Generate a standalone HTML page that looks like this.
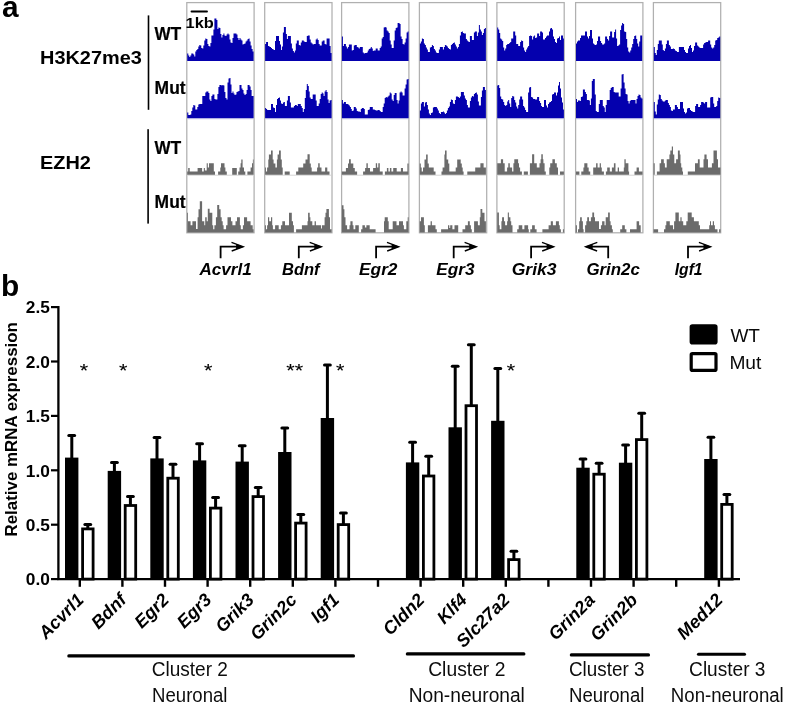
<!DOCTYPE html>
<html lang="en"><head><meta charset="utf-8"><title>Figure</title>
<style>html,body{margin:0;padding:0;background:#fff}svg{display:block}</style></head>
<body>
<svg width="785" height="705" viewBox="0 0 785 705" font-family='"Liberation Sans", Arial, Helvetica, sans-serif'>
<rect width="785" height="705" fill="#fff"/>
<g fill="#000" font-weight="bold">
<text x="1.9" y="17.0" font-size="29.8">a</text>
<text x="0.9" y="296.0" font-size="29.8">b</text>
<text x="40.0" y="64.4" font-size="18.6" textLength="101.9" lengthAdjust="spacingAndGlyphs">H3K27me3</text>
<text x="40.0" y="169.4" font-size="18.6" textLength="50.9" lengthAdjust="spacingAndGlyphs">EZH2</text>
<text x="154.6" y="39.6" font-size="18" stroke="#000" stroke-width="0.2" textLength="26.6" lengthAdjust="spacingAndGlyphs">WT</text>
<text x="154.6" y="93.7" font-size="18" stroke="#000" stroke-width="0.2" textLength="31.0" lengthAdjust="spacingAndGlyphs">Mut</text>
<text x="154.6" y="153.9" font-size="18" stroke="#000" stroke-width="0.2" textLength="26.6" lengthAdjust="spacingAndGlyphs">WT</text>
<text x="154.6" y="208.1" font-size="18" stroke="#000" stroke-width="0.2" textLength="31.0" lengthAdjust="spacingAndGlyphs">Mut</text>
</g>
<rect x="147.7" y="15.4" width="1.6" height="94.4" fill="#000"/>
<rect x="147.3" y="129.2" width="1.6" height="94.4" fill="#000"/>
<rect x="186.80" y="2.6" width="67.3" height="230.2" fill="none" stroke="#b0b0b0" stroke-width="1.25"/>
<line x1="187.40" y1="118.9" x2="253.50" y2="118.9" stroke="#d9d9f0" stroke-width="1"/>
<line x1="187.40" y1="175.2" x2="253.50" y2="175.2" stroke="#cfcfcf" stroke-width="0.9"/>
<path d="M187.2,60.9V53.5H188.3V55.5H189.3V57.0H190.3V55.5H191.3V53.5H192.3V53.5H193.3V54.5H194.3V56.5H195.3V51.5H196.3V50.0H197.3V49.0H198.3V46.5H199.3V45.0H200.3V45.5H201.3V48.0H202.3V48.5H203.3V45.5H204.3V40.5H205.3V38.5H206.3V39.0H207.4V44.0H208.4V46.0H209.4V46.5H210.4V43.0H211.4V35.5H212.4V35.5H213.4V29.5H214.4V18.5H215.4V18.5H216.4V20.0H217.4V29.0H218.4V27.5H219.4V28.0H220.4V34.0H221.4V37.5H222.4V35.0H223.4V33.5H224.4V35.5H225.4V36.0H226.5V34.5H227.5V33.5H228.5V34.5H229.5V39.5H230.5V42.5H231.5V43.0H232.5V38.0H233.5V33.5H234.5V33.5H235.5V33.5H236.5V34.5H237.5V38.0H238.5V40.0H239.5V38.0H240.5V39.5H241.5V40.5H242.5V44.5H243.5V44.0H244.5V43.5H245.6V41.5H246.6V40.5H247.6V39.0H248.6V38.5H249.6V41.5H250.6V45.5H251.6V49.0H252.6V51.5H253.6V60.9Z" fill="#0400ae"/>
<path d="M187.2,118.2V112.5H188.3V115.0H189.3V115.0H190.3V114.5H191.3V111.0H192.3V107.5H193.3V105.0H194.3V105.5H195.3V109.5H196.3V109.5H197.3V107.0H198.3V104.5H199.3V104.0H200.3V104.0H201.3V104.0H202.3V96.0H203.3V96.0H204.3V96.0H205.3V92.5H206.3V91.5H207.4V91.5H208.4V93.0H209.4V99.5H210.4V101.0H211.4V96.0H212.4V94.5H213.4V94.5H214.4V99.0H215.4V99.5H216.4V99.5H217.4V94.0H218.4V87.0H219.4V85.0H220.4V85.0H221.4V85.5H222.4V85.0H223.4V85.5H224.4V92.0H225.4V98.0H226.5V99.5H227.5V82.5H228.5V78.5H229.5V78.0H230.5V84.5H231.5V93.0H232.5V91.5H233.5V93.5H234.5V95.0H235.5V94.5H236.5V92.0H237.5V91.5H238.5V91.0H239.5V85.0H240.5V85.0H241.5V88.5H242.5V90.0H243.5V93.5H244.5V95.0H245.6V94.0H246.6V90.0H247.6V85.0H248.6V85.0H249.6V86.5H250.6V90.0H251.6V96.0H252.6V96.0H253.6V118.2Z" fill="#0400ae"/>
<path d="M187.2,174.8V171.5H188.2V174.8ZM188.2,174.8V167.9H189.7V174.8ZM189.7,174.8V171.5H197.6V174.8ZM197.6,174.8V167.9H202.1V174.8ZM202.1,174.8V171.5H203.8V174.8ZM203.8,174.8V167.9H204.9V174.8ZM204.9,174.8V170.6H206.7V174.8ZM206.7,174.8V163.2H207.8V174.8ZM207.8,174.8V167.5H209.0V174.8ZM209.0,174.8V163.2H213.8V174.8ZM213.8,174.8V171.5H215.0V174.8ZM218.1,174.8V171.5H220.3V174.8ZM220.3,174.8V167.5H221.0V174.8ZM221.0,174.8V163.2H224.5V174.8ZM224.5,174.8V167.5H225.4V174.8ZM225.4,174.8V171.5H226.8V174.8ZM232.2,174.8V167.9H236.8V174.8ZM238.2,174.8V171.5H239.5V174.8ZM239.5,174.8V167.5H240.6V174.8ZM240.6,174.8V163.2H241.3V174.8ZM241.3,174.8V159.5H242.6V174.8ZM242.6,174.8V167.5H244.0V174.8ZM244.0,174.8V171.5H245.3V174.8ZM247.4,174.8V171.5H250.6V174.8ZM250.6,174.8V167.5H252.0V174.8ZM252.0,174.8V163.2H252.9V174.8ZM252.9,174.8V159.5H253.6V174.8Z" fill="#6b6b6b"/>
<path d="M187.2,232.6V212.8H188.0V232.6ZM188.0,232.6V221.3H190.6V232.6ZM190.6,232.6V225.3H192.4V232.6ZM192.4,232.6V221.3H196.0V232.6ZM196.0,232.6V228.9H197.6V232.6ZM197.6,232.6V217.3H198.5V232.6ZM198.5,232.6V209.2H199.8V232.6ZM199.8,232.6V201.2H202.1V232.6ZM202.1,232.6V221.3H204.3V232.6ZM204.3,232.6V225.3H205.2V232.6ZM205.2,232.6V217.3H206.7V232.6ZM206.7,232.6V221.3H207.8V232.6ZM207.8,232.6V208.8H209.6V232.6ZM209.6,232.6V212.8H212.3V232.6ZM212.3,232.6V225.3H213.2V232.6ZM213.2,232.6V229.3H214.4V232.6ZM214.4,232.6V225.3H215.9V232.6ZM215.9,232.6V217.3H217.2V232.6ZM217.2,232.6V205.0H219.2V232.6ZM219.2,232.6V209.2H220.6V232.6ZM220.6,232.6V217.3H221.7V232.6ZM221.7,232.6V221.3H222.7V232.6ZM222.7,232.6V225.3H223.6V232.6ZM223.6,232.6V229.3H226.1V232.6ZM226.1,232.6V225.3H227.5V232.6ZM227.5,232.6V217.3H231.0V232.6ZM231.0,232.6V221.3H232.4V232.6ZM232.4,232.6V225.3H235.5V232.6ZM235.5,232.6V221.3H237.0V232.6ZM237.0,232.6V217.3H239.9V232.6ZM239.9,232.6V225.3H240.8V232.6ZM240.8,232.6V229.3H242.9V232.6ZM242.9,232.6V225.3H244.0V232.6ZM244.0,232.6V217.3H247.1V232.6ZM247.1,232.6V221.3H250.6V232.6ZM250.6,232.6V225.3H252.7V232.6ZM252.7,232.6V229.3H253.6V232.6Z" fill="#6b6b6b"/>
<path d="M220.60,258.3V246.7H240.10" fill="none" stroke="#000" stroke-width="1.8"/>
<path d="M231.50,242.4L243.10,246.7L231.70,251.0" fill="none" stroke="#000" stroke-width="1.4" stroke-linejoin="miter"/>
<path d="M236.10,243.9L243.90,246.7L236.10,249.4Z" fill="#000"/>
<rect x="264.70" y="2.6" width="67.3" height="230.2" fill="none" stroke="#b0b0b0" stroke-width="1.25"/>
<line x1="265.30" y1="118.9" x2="331.40" y2="118.9" stroke="#d9d9f0" stroke-width="1"/>
<line x1="265.30" y1="175.2" x2="331.40" y2="175.2" stroke="#cfcfcf" stroke-width="0.9"/>
<path d="M265.1,60.9V44.0H266.1V42.0H267.1V42.0H268.0V46.0H269.0V46.5H270.0V47.0H271.0V48.0H272.0V49.0H273.0V49.5H274.0V50.0H275.0V41.0H276.0V36.0H277.0V36.0H278.0V36.0H279.0V41.0H280.0V44.5H281.0V50.0H281.9V46.5H282.9V32.5H283.9V27.0H284.9V27.0H285.9V34.0H286.9V39.0H287.9V36.0H288.9V36.0H289.9V36.0H290.9V43.5H291.9V48.5H292.9V51.0H293.9V52.5H294.9V50.5H295.8V43.5H296.8V40.5H297.8V40.5H298.8V45.0H299.8V45.5H300.8V42.5H301.8V40.5H302.8V40.5H303.8V41.5H304.8V42.0H305.8V42.0H306.8V36.0H307.8V35.5H308.8V35.5H309.7V39.5H310.7V42.5H311.7V43.5H312.7V44.5H313.7V44.0H314.7V44.0H315.7V39.5H316.7V38.5H317.7V40.0H318.7V44.0H319.7V45.5H320.7V45.5H321.7V41.5H322.7V40.5H323.6V40.5H324.6V44.0H325.6V44.5H326.6V38.5H327.6V38.5H328.6V38.5H329.6V46.0H330.6V53.0H331.6V60.9Z" fill="#0400ae"/>
<path d="M265.1,118.2V108.0H266.1V109.0H267.1V110.0H268.0V110.0H269.0V110.0H270.0V110.0H271.0V104.0H272.0V104.0H273.0V107.5H274.0V108.0H275.0V112.0H276.0V105.0H277.0V99.0H278.0V98.0H279.0V97.5H280.0V100.5H281.0V103.5H281.9V104.0H282.9V102.5H283.9V102.0H284.9V106.0H285.9V106.0H286.9V100.5H287.9V96.0H288.9V96.0H289.9V102.5H290.9V107.5H291.9V107.5H292.9V107.5H293.9V106.0H294.9V105.0H295.8V105.0H296.8V106.0H297.8V104.0H298.8V104.0H299.8V104.0H300.8V106.0H301.8V108.0H302.8V112.0H303.8V109.0H304.8V98.0H305.8V90.0H306.8V84.0H307.8V86.0H308.8V91.5H309.7V97.5H310.7V99.0H311.7V99.0H312.7V94.5H313.7V94.5H314.7V94.5H315.7V100.5H316.7V106.0H317.7V106.0H318.7V103.5H319.7V99.0H320.7V94.0H321.7V92.5H322.7V93.5H323.6V96.0H324.6V91.5H325.6V90.0H326.6V92.0H327.6V99.5H328.6V103.0H329.6V100.5H330.6V100.0H331.6V118.2Z" fill="#0400ae"/>
<path d="M265.1,174.8V167.5H266.0V174.8ZM266.0,174.8V171.5H267.1V174.8ZM267.1,174.8V167.5H268.3V174.8ZM268.3,174.8V159.5H268.9V174.8ZM268.9,174.8V154.6H271.0V174.8ZM271.0,174.8V150.5H272.7V174.8ZM272.7,174.8V159.5H273.6V174.8ZM273.6,174.8V163.5H275.4V174.8ZM275.4,174.8V167.5H276.9V174.8ZM276.9,174.8V159.5H277.6V174.8ZM277.6,174.8V154.6H279.0V174.8ZM279.0,174.8V150.5H280.8V174.8ZM280.8,174.8V159.5H281.8V174.8ZM281.8,174.8V167.5H282.7V174.8ZM284.7,174.8V171.5H289.7V174.8ZM296.1,174.8V171.5H298.3V174.8ZM298.3,174.8V167.5H303.2V174.8ZM303.2,174.8V163.5H305.5V174.8ZM305.5,174.8V159.5H307.5V174.8ZM307.5,174.8V154.3H309.7V174.8ZM309.7,174.8V163.5H310.8V174.8ZM310.8,174.8V167.5H311.7V174.8ZM311.7,174.8V171.5H317.1V174.8ZM317.1,174.8V167.5H318.2V174.8ZM318.2,174.8V163.2H319.7V174.8ZM319.7,174.8V167.5H321.5V174.8ZM321.5,174.8V171.5H325.1V174.8ZM325.1,174.8V167.5H327.3V174.8ZM327.3,174.8V171.5H329.5V174.8Z" fill="#6b6b6b"/>
<path d="M265.1,232.6V225.3H266.0V232.6ZM266.0,232.6V229.3H267.1V232.6ZM267.1,232.6V225.3H268.0V232.6ZM268.0,232.6V217.3H269.2V232.6ZM269.2,232.6V221.3H271.0V232.6ZM271.0,232.6V217.3H272.2V232.6ZM272.2,232.6V225.3H272.9V232.6ZM272.9,232.6V229.3H275.1V232.6ZM275.1,232.6V225.3H278.7V232.6ZM278.7,232.6V229.3H280.9V232.6ZM280.9,232.6V225.3H282.3V232.6ZM282.3,232.6V221.3H285.0V232.6ZM285.0,232.6V225.3H289.0V232.6ZM289.0,232.6V212.8H291.8V232.6ZM291.8,232.6V221.3H293.0V232.6ZM293.0,232.6V225.3H293.9V232.6ZM296.1,232.6V229.3H301.9V232.6ZM301.9,232.6V225.3H307.5V232.6ZM307.5,232.6V221.3H308.1V232.6ZM308.1,232.6V212.8H309.7V232.6ZM309.7,232.6V217.3H310.4V232.6ZM310.4,232.6V221.3H312.3V232.6ZM312.3,232.6V225.3H314.6V232.6ZM314.6,232.6V221.3H315.9V232.6ZM315.9,232.6V225.3H321.1V232.6ZM321.1,232.6V228.4H322.0V232.6ZM322.0,232.6V225.3H324.6V232.6ZM324.6,232.6V217.3H325.5V232.6ZM325.5,232.6V212.8H326.4V232.6ZM326.4,232.6V209.1H328.9V232.6ZM328.9,232.6V217.3H330.0V232.6ZM330.0,232.6V229.3H331.6V232.6Z" fill="#6b6b6b"/>
<path d="M298.80,258.3V246.7H318.30" fill="none" stroke="#000" stroke-width="1.8"/>
<path d="M309.70,242.4L321.30,246.7L309.90,251.0" fill="none" stroke="#000" stroke-width="1.4" stroke-linejoin="miter"/>
<path d="M314.30,243.9L322.10,246.7L314.30,249.4Z" fill="#000"/>
<rect x="341.60" y="2.6" width="67.3" height="230.2" fill="none" stroke="#b0b0b0" stroke-width="1.25"/>
<line x1="342.20" y1="118.9" x2="408.30" y2="118.9" stroke="#d9d9f0" stroke-width="1"/>
<line x1="342.20" y1="175.2" x2="408.30" y2="175.2" stroke="#cfcfcf" stroke-width="0.9"/>
<path d="M341.9,60.9V36.5H342.9V46.0H343.9V44.0H344.9V44.0H345.9V46.5H346.9V48.5H347.9V47.0H348.9V44.5H349.9V44.5H350.9V44.5H351.8V50.5H352.8V50.0H353.8V45.5H354.8V45.0H355.8V45.0H356.8V47.0H357.8V47.5H358.8V48.5H359.8V47.0H360.8V47.0H361.8V47.0H362.8V52.5H363.8V53.5H364.8V53.0H365.8V53.0H366.8V52.5H367.8V50.5H368.8V49.0H369.8V48.5H370.8V47.0H371.8V48.5H372.8V51.0H373.7V50.5H374.7V50.5H375.7V48.5H376.7V48.5H377.7V50.5H378.7V50.5H379.7V48.0H380.7V46.5H381.7V38.5H382.7V37.0H383.7V27.5H384.7V27.0H385.7V27.5H386.7V30.5H387.7V31.5H388.7V33.0H389.7V40.5H390.7V44.5H391.7V48.0H392.7V48.0H393.7V40.5H394.7V30.5H395.7V28.0H396.6V27.5H397.6V23.0H398.6V23.0H399.6V24.0H400.6V36.5H401.6V39.0H402.6V44.0H403.6V44.5H404.6V42.5H405.6V38.5H406.6V32.5H407.6V31.5H408.6V60.9Z" fill="#0400ae"/>
<path d="M341.9,118.2V100.0H342.9V103.5H343.9V102.0H344.9V102.0H345.9V104.0H346.9V104.0H347.9V104.5H348.9V105.5H349.9V107.0H350.9V109.0H351.8V111.0H352.8V110.5H353.8V107.0H354.8V107.0H355.8V108.5H356.8V111.0H357.8V111.5H358.8V111.5H359.8V112.0H360.8V109.0H361.8V108.0H362.8V108.0H363.8V109.0H364.8V114.5H365.8V114.5H366.8V114.5H367.8V110.0H368.8V109.5H369.8V107.0H370.8V107.0H371.8V107.0H372.8V109.5H373.7V109.5H374.7V110.0H375.7V110.5H376.7V110.5H377.7V110.0H378.7V110.0H379.7V111.0H380.7V112.0H381.7V112.0H382.7V107.0H383.7V103.5H384.7V98.0H385.7V97.0H386.7V97.5H387.7V96.5H388.7V95.5H389.7V92.5H390.7V93.5H391.7V99.5H392.7V101.0H393.7V95.0H394.7V93.0H395.7V93.0H396.6V100.0H397.6V103.5H398.6V100.5H399.6V92.5H400.6V91.5H401.6V92.5H402.6V95.5H403.6V95.5H404.6V88.5H405.6V84.5H406.6V79.5H407.6V79.0H408.6V118.2Z" fill="#0400ae"/>
<path d="M341.9,174.8V171.5H345.9V174.8ZM345.9,174.8V167.9H348.0V174.8ZM348.0,174.8V163.5H349.0V174.8ZM349.0,174.8V159.3H350.8V174.8ZM350.8,174.8V163.5H353.3V174.8ZM353.3,174.8V167.9H354.8V174.8ZM354.8,174.8V171.5H357.1V174.8ZM363.1,174.8V171.5H365.1V174.8ZM365.1,174.8V167.9H366.4V174.8ZM366.4,174.8V163.2H367.8V174.8ZM367.8,174.8V167.9H370.0V174.8ZM370.0,174.8V171.5H373.1V174.8ZM373.1,174.8V167.9H375.8V174.8ZM375.8,174.8V163.2H377.1V174.8ZM377.1,174.8V167.5H378.3V174.8ZM378.3,174.8V163.2H379.8V174.8ZM379.8,174.8V171.5H382.7V174.8ZM384.9,174.8V171.5H386.9V174.8ZM386.9,174.8V167.9H388.4V174.8ZM388.4,174.8V171.5H389.9V174.8ZM389.9,174.8V167.9H391.4V174.8ZM391.4,174.8V171.5H393.2V174.8ZM393.2,174.8V167.9H396.7V174.8ZM396.7,174.8V171.5H400.9V174.8ZM400.9,174.8V167.9H403.0V174.8ZM403.0,174.8V171.5H407.4V174.8ZM407.4,174.8V163.5H408.6V174.8Z" fill="#6b6b6b"/>
<path d="M341.9,232.6V205.2H343.5V232.6ZM343.5,232.6V209.2H344.4V232.6ZM344.4,232.6V217.3H345.5V232.6ZM345.5,232.6V225.3H347.1V232.6ZM347.1,232.6V229.3H349.5V232.6ZM349.5,232.6V225.3H350.4V232.6ZM350.4,232.6V221.3H352.6V232.6ZM352.6,232.6V225.3H353.5V232.6ZM353.5,232.6V229.3H355.3V232.6ZM355.3,232.6V225.3H358.8V232.6ZM361.1,232.6V229.3H362.4V232.6ZM362.4,232.6V225.3H364.9V232.6ZM364.9,232.6V227.5H366.4V232.6ZM366.4,232.6V225.3H369.7V232.6ZM369.7,232.6V229.3H375.6V232.6ZM384.0,232.6V221.3H384.7V232.6ZM384.7,232.6V217.3H387.8V232.6ZM387.8,232.6V221.3H388.7V232.6ZM388.7,232.6V229.3H392.7V232.6ZM392.7,232.6V221.3H396.5V232.6ZM396.5,232.6V225.3H399.0V232.6ZM399.0,232.6V221.3H403.0V232.6ZM403.0,232.6V225.3H403.9V232.6ZM403.9,232.6V229.3H406.3V232.6ZM406.3,232.6V221.3H407.7V232.6ZM407.7,232.6V217.3H408.6V232.6Z" fill="#6b6b6b"/>
<path d="M376.10,258.3V246.7H395.60" fill="none" stroke="#000" stroke-width="1.8"/>
<path d="M387.00,242.4L398.60,246.7L387.20,251.0" fill="none" stroke="#000" stroke-width="1.4" stroke-linejoin="miter"/>
<path d="M391.60,243.9L399.40,246.7L391.60,249.4Z" fill="#000"/>
<rect x="419.40" y="2.6" width="67.3" height="230.2" fill="none" stroke="#b0b0b0" stroke-width="1.25"/>
<line x1="420.00" y1="118.9" x2="486.10" y2="118.9" stroke="#d9d9f0" stroke-width="1"/>
<line x1="420.00" y1="175.2" x2="486.10" y2="175.2" stroke="#cfcfcf" stroke-width="0.9"/>
<path d="M419.9,60.9V43.5H420.9V41.5H421.9V38.5H422.9V39.0H423.9V43.5H424.9V45.0H425.9V47.5H426.9V49.5H427.9V52.0H428.9V52.0H429.9V47.5H430.9V47.0H431.9V45.0H432.9V46.0H433.9V49.0H434.9V50.5H435.9V52.5H436.9V53.0H437.9V53.0H438.9V49.5H439.9V47.0H440.9V47.0H441.9V47.0H442.9V49.5H443.9V47.0H444.9V45.0H445.9V45.5H446.9V46.5H447.9V48.0H448.9V49.0H449.9V49.5H450.9V45.0H451.9V44.0H452.9V43.0H453.9V42.5H454.9V44.5H455.9V46.5H456.9V48.5H457.9V47.0H458.9V44.0H459.9V35.5H460.9V32.0H461.9V31.5H462.9V33.0H463.9V33.5H464.9V33.5H465.9V39.0H466.9V40.5H467.9V41.5H468.9V42.0H469.9V36.0H470.9V36.0H471.9V40.0H472.9V40.0H473.9V32.5H474.9V31.5H475.9V31.5H476.9V36.0H477.9V32.5H478.9V25.0H479.9V29.5H480.9V31.5H481.9V35.0H482.9V33.0H483.9V29.0H484.9V28.0H485.9V60.9Z" fill="#0400ae"/>
<path d="M419.9,118.2V110.5H420.9V103.5H421.9V102.0H422.9V102.0H423.9V106.5H424.9V102.5H425.9V102.0H426.9V105.0H427.9V109.5H428.9V113.5H429.9V115.0H430.9V113.0H431.9V112.5H432.9V107.5H433.9V107.0H434.9V107.0H435.9V107.0H436.9V108.5H437.9V110.5H438.9V113.0H439.9V114.0H440.9V112.0H441.9V112.0H442.9V111.5H443.9V112.5H444.9V114.0H445.9V113.0H446.9V110.5H447.9V108.0H448.9V106.5H449.9V102.0H450.9V99.5H451.9V100.0H452.9V103.5H453.9V104.0H454.9V100.0H455.9V96.5H456.9V96.5H457.9V97.0H458.9V98.0H459.9V96.5H460.9V92.0H461.9V92.0H462.9V92.0H463.9V95.5H464.9V98.5H465.9V100.0H466.9V105.0H467.9V107.5H468.9V107.5H469.9V101.0H470.9V97.5H471.9V96.0H472.9V96.5H473.9V94.0H474.9V93.0H475.9V92.5H476.9V94.5H477.9V101.5H478.9V105.5H479.9V105.5H480.9V97.0H481.9V90.5H482.9V87.0H483.9V87.0H484.9V90.0H485.9V118.2Z" fill="#0400ae"/>
<path d="M419.7,174.8V163.5H420.8V174.8ZM420.8,174.8V167.5H421.7V174.8ZM421.7,174.8V171.5H423.0V174.8ZM423.0,174.8V167.5H424.5V174.8ZM424.5,174.8V159.5H426.1V174.8ZM426.1,174.8V154.6H427.7V174.8ZM427.7,174.8V163.5H428.8V174.8ZM428.8,174.8V167.5H433.7V174.8ZM433.7,174.8V171.5H435.5V174.8ZM441.5,174.8V171.5H442.6V174.8ZM442.6,174.8V167.5H444.4V174.8ZM444.4,174.8V154.6H445.0V174.8ZM445.0,174.8V150.5H446.6V174.8ZM446.6,174.8V159.5H448.2V174.8ZM448.2,174.8V163.5H449.3V174.8ZM449.3,174.8V171.5H455.7V174.8ZM455.7,174.8V167.5H457.2V174.8ZM457.2,174.8V159.5H460.7V174.8ZM460.7,174.8V163.5H461.8V174.8ZM461.8,174.8V167.5H462.7V174.8ZM462.7,174.8V171.5H463.6V174.8ZM467.3,174.8V171.5H475.2V174.8ZM475.2,174.8V167.5H480.4V174.8ZM480.4,174.8V163.2H483.6V174.8ZM483.6,174.8V167.5H485.9V174.8Z" fill="#6b6b6b"/>
<path d="M419.7,232.6V221.3H421.0V232.6ZM421.0,232.6V217.3H423.9V232.6ZM423.9,232.6V225.3H424.8V232.6ZM427.9,232.6V225.3H430.6V232.6ZM430.6,232.6V221.3H431.9V232.6ZM431.9,232.6V225.3H435.5V232.6ZM435.5,232.6V229.3H436.8V232.6ZM441.1,232.6V229.3H448.0V232.6ZM448.0,232.6V225.3H449.3V232.6ZM449.3,232.6V228.0H450.2V232.6ZM450.2,232.6V225.3H452.4V232.6ZM452.4,232.6V229.3H454.5V232.6ZM454.5,232.6V225.3H458.2V232.6ZM462.5,232.6V229.3H465.2V232.6ZM465.2,232.6V225.3H467.9V232.6ZM467.9,232.6V221.3H469.8V232.6ZM469.8,232.6V225.3H470.9V232.6ZM470.9,232.6V229.3H471.8V232.6ZM474.1,232.6V221.3H477.9V232.6ZM477.9,232.6V225.3H479.8V232.6ZM479.8,232.6V217.3H480.5V232.6ZM480.5,232.6V209.1H482.3V232.6ZM482.3,232.6V212.8H484.5V232.6ZM484.5,232.6V221.3H485.9V232.6Z" fill="#6b6b6b"/>
<path d="M453.70,258.3V246.7H473.20" fill="none" stroke="#000" stroke-width="1.8"/>
<path d="M464.60,242.4L476.20,246.7L464.80,251.0" fill="none" stroke="#000" stroke-width="1.4" stroke-linejoin="miter"/>
<path d="M469.20,243.9L477.00,246.7L469.20,249.4Z" fill="#000"/>
<rect x="496.90" y="2.6" width="67.3" height="230.2" fill="none" stroke="#b0b0b0" stroke-width="1.25"/>
<line x1="497.50" y1="118.9" x2="563.60" y2="118.9" stroke="#d9d9f0" stroke-width="1"/>
<line x1="497.50" y1="175.2" x2="563.60" y2="175.2" stroke="#cfcfcf" stroke-width="0.9"/>
<path d="M497.2,60.9V27.5H498.2V29.5H499.2V33.0H500.2V38.5H501.2V39.5H502.2V41.0H503.2V47.5H504.2V50.5H505.2V48.5H506.2V45.0H507.2V44.0H508.2V44.0H509.2V43.0H510.2V42.0H511.2V38.5H512.2V38.5H513.2V31.5H514.2V31.5H515.2V35.5H516.2V44.0H517.2V44.0H518.2V46.0H519.2V46.0H520.1V42.0H521.1V40.5H522.1V41.0H523.1V47.5H524.1V50.5H525.1V52.0H526.1V49.5H527.1V47.5H528.1V46.0H529.1V36.0H530.1V35.5H531.1V36.0H532.1V39.5H533.1V36.5H534.1V35.5H535.1V38.0H536.1V37.5H537.1V33.5H538.1V33.5H539.1V36.0H540.1V31.5H541.1V31.5H542.0V32.5H543.0V39.5H544.0V39.5H545.0V38.0H546.0V36.5H547.0V35.5H548.0V35.5H549.0V31.5H550.0V28.5H551.0V28.0H552.0V29.5H553.0V36.5H554.0V39.0H555.0V42.0H556.0V43.0H557.0V38.5H558.0V38.0H559.0V36.5H560.0V40.0H561.0V35.5H562.0V35.5H563.0V38.5H563.9V60.9Z" fill="#0400ae"/>
<path d="M497.2,118.2V85.5H498.2V85.0H499.2V88.0H500.2V96.5H501.2V99.0H502.2V99.5H503.2V102.0H504.2V105.0H505.2V106.0H506.2V105.0H507.2V101.5H508.2V100.0H509.2V103.5H510.2V107.0H511.2V98.0H512.2V96.0H513.2V96.5H514.2V100.0H515.2V102.5H516.2V106.5H517.2V108.5H518.2V105.0H519.2V99.5H520.1V96.5H521.1V96.5H522.1V99.5H523.1V106.0H524.1V107.5H525.1V110.0H526.1V112.0H527.1V112.0H528.1V92.5H529.1V87.5H530.1V87.0H531.1V97.0H532.1V97.5H533.1V99.0H534.1V99.0H535.1V99.5H536.1V99.5H537.1V97.0H538.1V97.0H539.1V101.0H540.1V103.0H541.1V106.0H542.0V107.0H543.0V107.0H544.0V100.0H545.0V100.0H546.0V105.5H547.0V107.5H548.0V104.0H549.0V102.5H550.0V102.0H551.0V101.0H552.0V94.5H553.0V94.0H554.0V92.5H555.0V92.5H556.0V95.5H557.0V92.5H558.0V85.5H559.0V82.0H560.0V88.5H561.0V97.5H562.0V102.5H563.0V109.5H563.9V118.2Z" fill="#0400ae"/>
<path d="M497.2,174.8V163.2H500.9V174.8ZM500.9,174.8V159.3H503.1V174.8ZM503.1,174.8V163.2H504.7V174.8ZM504.7,174.8V171.5H507.1V174.8ZM507.1,174.8V167.5H508.3V174.8ZM508.3,174.8V163.2H509.8V174.8ZM509.8,174.8V167.5H512.1V174.8ZM512.1,174.8V171.5H513.4V174.8ZM513.4,174.8V163.2H514.3V174.8ZM514.3,174.8V159.3H518.1V174.8ZM518.1,174.8V163.2H519.0V174.8ZM519.0,174.8V167.5H520.1V174.8ZM520.1,174.8V171.5H521.9V174.8ZM523.8,174.8V171.5H527.9V174.8ZM529.9,174.8V163.2H532.1V174.8ZM532.1,174.8V154.3H534.2V174.8ZM534.2,174.8V163.2H536.8V174.8ZM536.8,174.8V167.5H539.5V174.8ZM539.5,174.8V163.2H540.6V174.8ZM540.6,174.8V159.3H541.3V174.8ZM541.3,174.8V154.3H542.8V174.8ZM542.8,174.8V159.3H543.4V174.8ZM543.4,174.8V163.2H544.6V174.8ZM544.6,174.8V171.5H545.8V174.8ZM549.3,174.8V167.5H550.2V174.8ZM550.2,174.8V163.2H552.4V174.8ZM552.4,174.8V159.3H554.9V174.8ZM554.9,174.8V163.2H556.8V174.8ZM556.8,174.8V167.5H558.0V174.8ZM560.0,174.8V171.5H563.9V174.8Z" fill="#6b6b6b"/>
<path d="M497.2,232.6V212.6H498.9V232.6ZM498.9,232.6V225.3H499.7V232.6ZM499.7,232.6V229.3H501.4V232.6ZM501.4,232.6V221.3H502.1V232.6ZM502.1,232.6V217.3H504.0V232.6ZM504.0,232.6V221.3H505.1V232.6ZM505.1,232.6V225.3H507.1V232.6ZM507.1,232.6V221.3H507.8V232.6ZM507.8,232.6V212.6H508.9V232.6ZM508.9,232.6V217.3H510.4V232.6ZM510.4,232.6V221.3H511.2V232.6ZM511.2,232.6V225.3H512.5V232.6ZM517.2,232.6V229.3H518.7V232.6ZM518.7,232.6V225.3H522.3V232.6ZM522.3,232.6V229.3H524.4V232.6ZM524.4,232.6V225.3H528.1V232.6ZM528.1,232.6V229.3H528.8V232.6ZM530.3,232.6V229.3H532.1V232.6ZM532.1,232.6V225.3H534.8V232.6ZM534.8,232.6V229.3H536.6V232.6ZM542.4,232.6V229.3H548.6V232.6ZM548.6,232.6V225.3H550.8V232.6ZM550.8,232.6V221.3H552.9V232.6ZM552.9,232.6V225.3H555.9V232.6ZM555.9,232.6V221.3H558.9V232.6ZM558.9,232.6V225.3H559.8V232.6ZM559.8,232.6V229.3H560.9V232.6ZM562.9,232.6V229.3H563.9V232.6Z" fill="#6b6b6b"/>
<path d="M531.10,258.3V246.7H550.60" fill="none" stroke="#000" stroke-width="1.8"/>
<path d="M542.00,242.4L553.60,246.7L542.20,251.0" fill="none" stroke="#000" stroke-width="1.4" stroke-linejoin="miter"/>
<path d="M546.60,243.9L554.40,246.7L546.60,249.4Z" fill="#000"/>
<rect x="575.60" y="2.6" width="67.3" height="230.2" fill="none" stroke="#b0b0b0" stroke-width="1.25"/>
<line x1="576.20" y1="118.9" x2="642.30" y2="118.9" stroke="#d9d9f0" stroke-width="1"/>
<line x1="576.20" y1="175.2" x2="642.30" y2="175.2" stroke="#cfcfcf" stroke-width="0.9"/>
<path d="M576.0,60.9V43.5H577.0V41.5H578.0V40.5H579.0V40.5H580.0V38.0H581.0V35.5H582.0V35.5H583.0V35.5H584.0V35.5H585.0V31.5H586.0V31.5H587.0V36.5H588.0V38.5H589.0V36.0H590.0V30.0H591.0V30.0H592.0V38.5H593.0V43.5H594.0V44.5H595.0V45.0H596.0V44.5H597.0V41.0H598.0V36.5H599.1V36.5H600.1V41.0H601.1V43.0H602.1V44.5H603.1V44.5H604.1V43.5H605.1V36.5H606.1V36.5H607.1V39.0H608.1V40.5H609.1V36.0H610.1V31.5H611.1V31.5H612.1V37.5H613.1V37.5H614.1V32.0H615.1V29.5H616.1V38.5H617.1V46.0H618.1V45.5H619.1V44.5H620.1V30.0H621.1V25.5H622.1V23.0H623.1V24.0H624.1V31.5H625.2V32.0H626.2V39.0H627.2V47.5H628.2V51.5H629.2V52.5H630.2V50.5H631.2V47.5H632.2V44.0H633.2V39.0H634.2V36.0H635.2V35.5H636.2V39.0H637.2V43.5H638.2V46.5H639.2V41.5H640.2V35.5H641.2V35.5H642.2V60.9Z" fill="#0400ae"/>
<path d="M576.0,118.2V99.0H577.0V102.0H577.9V100.5H578.9V100.5H579.9V101.0H580.9V97.0H581.9V96.5H582.9V89.5H583.9V89.5H584.9V92.0H585.9V94.0H586.9V100.0H587.9V100.0H588.9V100.5H589.9V105.0H590.9V98.5H591.8V81.0H592.8V79.0H593.8V79.0H594.8V94.5H595.8V111.0H596.8V112.0H597.8V112.0H598.8V104.0H599.8V100.0H600.8V100.0H601.8V100.0H602.8V106.0H603.8V107.5H604.8V112.0H605.7V105.0H606.7V100.0H607.7V100.0H608.7V100.0H609.7V90.0H610.7V88.0H611.7V87.0H612.7V87.0H613.7V92.0H614.7V92.5H615.7V92.5H616.7V92.5H617.7V92.5H618.7V96.5H619.6V96.5H620.6V88.5H621.6V74.5H622.6V74.0H623.6V82.5H624.6V88.5H625.6V94.0H626.6V94.5H627.6V101.0H628.6V103.5H629.6V101.0H630.6V100.0H631.6V100.0H632.6V100.0H633.5V100.0H634.5V100.0H635.5V103.5H636.5V99.0H637.5V96.0H638.5V94.5H639.5V95.0H640.5V97.5H641.5V98.5H642.5V118.2Z" fill="#0400ae"/>
<path d="M576.0,174.8V171.5H579.4V174.8ZM581.3,174.8V171.5H583.4V174.8ZM583.4,174.8V167.5H584.3V174.8ZM584.3,174.8V163.2H587.4V174.8ZM587.4,174.8V167.5H588.7V174.8ZM588.7,174.8V171.5H590.2V174.8ZM593.2,174.8V167.5H596.1V174.8ZM596.1,174.8V163.2H597.6V174.8ZM597.6,174.8V167.5H599.7V174.8ZM599.7,174.8V163.2H600.9V174.8ZM600.9,174.8V167.5H601.8V174.8ZM601.8,174.8V171.5H603.9V174.8ZM605.9,174.8V171.5H607.2V174.8ZM607.2,174.8V167.5H609.8V174.8ZM609.8,174.8V171.5H611.9V174.8ZM611.9,174.8V167.5H613.9V174.8ZM613.9,174.8V163.2H615.5V174.8ZM615.5,174.8V171.5H617.7V174.8ZM617.7,174.8V167.5H619.0V174.8ZM619.0,174.8V171.5H623.8V174.8ZM623.8,174.8V167.5H624.4V174.8ZM624.4,174.8V159.3H625.7V174.8ZM625.7,174.8V163.2H628.4V174.8ZM628.4,174.8V171.5H629.1V174.8ZM634.5,174.8V171.5H636.6V174.8ZM636.6,174.8V167.5H638.9V174.8ZM638.9,174.8V171.5H642.5V174.8Z" fill="#6b6b6b"/>
<path d="M575.8,232.6V225.3H576.9V232.6ZM578.0,232.6V229.3H579.2V232.6ZM579.2,232.6V221.3H580.1V232.6ZM580.1,232.6V217.3H581.8V232.6ZM581.8,232.6V221.3H582.9V232.6ZM582.9,232.6V229.3H583.6V232.6ZM585.1,232.6V225.3H586.3V232.6ZM586.3,232.6V221.3H587.2V232.6ZM587.2,232.6V217.3H589.0V232.6ZM589.0,232.6V221.3H590.9V232.6ZM590.9,232.6V217.3H592.3V232.6ZM592.3,232.6V212.6H594.1V232.6ZM594.1,232.6V217.3H595.0V232.6ZM595.0,232.6V221.3H599.0V232.6ZM599.0,232.6V228.9H600.9V232.6ZM600.9,232.6V225.3H602.1V232.6ZM602.1,232.6V221.3H604.5V232.6ZM604.5,232.6V225.3H605.7V232.6ZM605.7,232.6V217.3H608.1V232.6ZM608.1,232.6V212.6H609.8V232.6ZM609.8,232.6V221.3H610.6V232.6ZM610.6,232.6V225.3H611.9V232.6ZM611.9,232.6V229.3H612.8V232.6ZM620.2,232.6V229.3H622.2V232.6ZM622.2,232.6V225.3H624.8V232.6ZM624.8,232.6V229.3H626.4V232.6ZM630.0,232.6V229.3H636.6V232.6ZM636.6,232.6V221.3H639.1V232.6ZM639.1,232.6V225.3H640.7V232.6Z" fill="#6b6b6b"/>
<path d="M608.20,258.3V246.7H588.70" fill="none" stroke="#000" stroke-width="1.8"/>
<path d="M597.30,242.4L585.70,246.7L597.10,251.0" fill="none" stroke="#000" stroke-width="1.4" stroke-linejoin="miter"/>
<path d="M592.70,243.9L584.90,246.7L592.70,249.4Z" fill="#000"/>
<rect x="653.40" y="2.6" width="67.3" height="230.2" fill="none" stroke="#b0b0b0" stroke-width="1.25"/>
<line x1="654.00" y1="118.9" x2="720.10" y2="118.9" stroke="#d9d9f0" stroke-width="1"/>
<line x1="654.00" y1="175.2" x2="720.10" y2="175.2" stroke="#cfcfcf" stroke-width="0.9"/>
<path d="M653.8,60.9V47.0H654.8V53.0H655.8V55.0H656.8V50.0H657.8V44.0H658.8V40.5H659.8V40.5H660.8V40.5H661.8V44.5H662.8V50.0H663.8V51.0H664.9V48.5H665.9V44.0H666.9V40.5H667.9V40.5H668.9V45.0H669.9V46.5H670.9V49.0H671.9V49.0H672.9V48.5H673.9V49.0H674.9V50.5H675.9V51.0H676.9V52.0H677.9V52.0H678.9V47.0H680.0V47.0H681.0V47.0H682.0V47.0H683.0V47.0H684.0V50.0H685.0V52.0H686.0V53.0H687.0V53.0H688.0V48.5H689.0V46.0H690.0V45.0H691.0V48.0H692.0V52.0H693.0V50.5H694.0V46.0H695.1V42.5H696.1V42.5H697.1V45.5H698.1V46.5H699.1V47.5H700.1V48.0H701.1V48.0H702.1V48.0H703.1V44.5H704.1V43.0H705.1V42.5H706.1V42.0H707.1V42.0H708.1V40.5H709.1V40.5H710.2V44.5H711.2V47.5H712.2V48.5H713.2V47.5H714.2V45.0H715.2V40.5H716.2V40.0H717.2V38.0H718.2V37.5H719.2V36.5H720.2V60.9Z" fill="#0400ae"/>
<path d="M653.8,118.2V102.0H654.8V111.5H655.8V114.5H656.8V104.5H657.8V99.5H658.8V94.5H659.8V95.0H660.8V99.0H661.8V100.5H662.8V101.5H663.8V101.5H664.9V100.5H665.9V100.0H666.9V100.0H667.9V103.0H668.9V105.0H669.9V107.0H670.9V110.5H671.9V111.0H672.9V109.5H673.9V109.5H674.9V105.0H675.9V105.0H676.9V107.0H677.9V109.0H678.9V109.0H680.0V102.0H681.0V102.0H682.0V102.0H683.0V108.5H684.0V112.0H685.0V113.5H686.0V112.5H687.0V108.5H688.0V108.0H689.0V108.0H690.0V110.0H691.0V111.0H692.0V111.5H693.0V112.0H694.0V112.0H695.1V106.0H696.1V104.0H697.1V104.0H698.1V107.0H699.1V107.0H700.1V105.0H701.1V102.0H702.1V102.0H703.1V102.5H704.1V103.5H705.1V102.0H706.1V102.0H707.1V107.5H708.1V107.5H709.1V107.5H710.2V97.5H711.2V97.0H712.2V97.0H713.2V103.5H714.2V107.0H715.2V107.0H716.2V106.0H717.2V101.0H718.2V97.5H719.2V98.0H720.2V118.2Z" fill="#0400ae"/>
<path d="M653.6,174.8V163.2H654.7V174.8ZM656.9,174.8V171.5H659.6V174.8ZM659.6,174.8V163.2H661.1V174.8ZM661.1,174.8V159.3H663.8V174.8ZM663.8,174.8V163.2H664.9V174.8ZM664.9,174.8V167.5H666.7V174.8ZM666.7,174.8V159.3H669.4V174.8ZM669.4,174.8V154.6H670.3V174.8ZM670.3,174.8V150.5H671.8V174.8ZM671.8,174.8V146.5H673.0V174.8ZM673.0,174.8V154.6H674.3V174.8ZM674.3,174.8V163.2H676.1V174.8ZM676.1,174.8V159.3H677.9V174.8ZM677.9,174.8V150.5H679.8V174.8ZM679.8,174.8V154.6H680.5V174.8ZM680.5,174.8V163.2H681.2V174.8ZM681.2,174.8V167.5H682.3V174.8ZM682.3,174.8V171.5H683.0V174.8ZM687.8,174.8V171.5H695.0V174.8ZM695.0,174.8V163.2H697.9V174.8ZM697.9,174.8V159.3H699.7V174.8ZM699.7,174.8V167.5H703.5V174.8ZM703.5,174.8V159.3H704.4V174.8ZM704.4,174.8V154.6H706.6V174.8ZM706.6,174.8V159.3H708.0V174.8ZM708.0,174.8V167.5H711.9V174.8ZM711.9,174.8V163.2H713.5V174.8ZM713.5,174.8V150.5H716.9V174.8ZM716.9,174.8V159.3H718.0V174.8ZM718.0,174.8V167.5H720.5V174.8Z" fill="#6b6b6b"/>
<path d="M653.6,232.6V229.3H658.1V232.6ZM664.0,232.6V229.3H665.4V232.6ZM665.4,232.6V225.3H666.3V232.6ZM666.3,232.6V221.3H669.8V232.6ZM669.8,232.6V225.3H673.0V232.6ZM673.0,232.6V229.3H674.1V232.6ZM674.1,232.6V221.3H675.4V232.6ZM675.4,232.6V212.6H678.8V232.6ZM678.8,232.6V221.3H680.4V232.6ZM680.4,232.6V217.3H681.6V232.6ZM681.6,232.6V221.3H683.2V232.6ZM683.2,232.6V225.3H686.3V232.6ZM686.3,232.6V221.3H687.7V232.6ZM687.7,232.6V212.6H691.7V232.6ZM691.7,232.6V217.3H693.9V232.6ZM693.9,232.6V221.3H698.8V232.6ZM698.8,232.6V225.3H700.0V232.6ZM700.0,232.6V229.3H709.2V232.6ZM709.2,232.6V225.3H710.0V232.6ZM710.0,232.6V221.3H711.0V232.6ZM711.0,232.6V225.3H712.8V232.6ZM712.8,232.6V221.3H714.0V232.6ZM714.0,232.6V225.3H714.9V232.6ZM714.9,232.6V229.3H717.5V232.6ZM719.1,232.6V229.3H720.5V232.6Z" fill="#6b6b6b"/>
<path d="M688.00,258.3V246.7H707.50" fill="none" stroke="#000" stroke-width="1.8"/>
<path d="M698.90,242.4L710.50,246.7L699.10,251.0" fill="none" stroke="#000" stroke-width="1.4" stroke-linejoin="miter"/>
<path d="M703.50,243.9L711.30,246.7L703.50,249.4Z" fill="#000"/>
<rect x="190.6" y="10.4" width="17.3" height="2.0" rx="0.9" fill="#000"/>
<text x="185.6" y="28.1" font-size="15.5" font-weight="bold" textLength="28.2" lengthAdjust="spacingAndGlyphs">1kb</text>
<g font-weight="bold" font-style="italic" font-size="17" fill="#000">
<text x="199.4" y="274.6" textLength="52.3" lengthAdjust="spacingAndGlyphs">Acvrl1</text>
<text x="282.0" y="274.6" textLength="37.6" lengthAdjust="spacingAndGlyphs">Bdnf</text>
<text x="359.0" y="274.6" textLength="38.5" lengthAdjust="spacingAndGlyphs">Egr2</text>
<text x="436.3" y="274.6" textLength="38.2" lengthAdjust="spacingAndGlyphs">Egr3</text>
<text x="511.7" y="274.6" textLength="44.8" lengthAdjust="spacingAndGlyphs">Grik3</text>
<text x="586.4" y="274.6" textLength="53.4" lengthAdjust="spacingAndGlyphs">Grin2c</text>
<text x="674.7" y="274.6" textLength="27.9" lengthAdjust="spacingAndGlyphs">Igf1</text>
</g>
<path d="M58.4,306.0V579.1H740" fill="none" stroke="#000" stroke-width="2.3" stroke-linejoin="miter"/>
<g font-weight="bold" font-size="17.3" fill="#000" text-anchor="end">
<line x1="51.0" y1="579.1" x2="58.4" y2="579.1" stroke="#000" stroke-width="2.2"/>
<text x="49.8" y="585.4">0.0</text>
<line x1="51.0" y1="524.7" x2="58.4" y2="524.7" stroke="#000" stroke-width="2.2"/>
<text x="49.8" y="531.0">0.5</text>
<line x1="51.0" y1="470.3" x2="58.4" y2="470.3" stroke="#000" stroke-width="2.2"/>
<text x="49.8" y="476.6">1.0</text>
<line x1="51.0" y1="415.9" x2="58.4" y2="415.9" stroke="#000" stroke-width="2.2"/>
<text x="49.8" y="422.2">1.5</text>
<line x1="51.0" y1="361.5" x2="58.4" y2="361.5" stroke="#000" stroke-width="2.2"/>
<text x="49.8" y="367.8">2.0</text>
<line x1="51.0" y1="307.1" x2="58.4" y2="307.1" stroke="#000" stroke-width="2.2"/>
<text x="49.8" y="313.4">2.5</text>
</g>
<text transform="translate(16.6,429.3) rotate(-90)" text-anchor="middle" font-weight="bold" font-size="16.9" fill="#000">Relative mRNA expression</text>
<line x1="79.8" y1="579.1" x2="79.8" y2="586.8" stroke="#000" stroke-width="2.4"/>
<line x1="122.4" y1="579.1" x2="122.4" y2="586.8" stroke="#000" stroke-width="2.4"/>
<line x1="165.0" y1="579.1" x2="165.0" y2="586.8" stroke="#000" stroke-width="2.4"/>
<line x1="207.6" y1="579.1" x2="207.6" y2="586.8" stroke="#000" stroke-width="2.4"/>
<line x1="250.2" y1="579.1" x2="250.2" y2="586.8" stroke="#000" stroke-width="2.4"/>
<line x1="292.8" y1="579.1" x2="292.8" y2="586.8" stroke="#000" stroke-width="2.4"/>
<line x1="335.4" y1="579.1" x2="335.4" y2="586.8" stroke="#000" stroke-width="2.4"/>
<line x1="378.0" y1="579.1" x2="378.0" y2="586.8" stroke="#000" stroke-width="2.4"/>
<line x1="420.6" y1="579.1" x2="420.6" y2="586.8" stroke="#000" stroke-width="2.4"/>
<line x1="463.2" y1="579.1" x2="463.2" y2="586.8" stroke="#000" stroke-width="2.4"/>
<line x1="505.8" y1="579.1" x2="505.8" y2="586.8" stroke="#000" stroke-width="2.4"/>
<line x1="548.4" y1="579.1" x2="548.4" y2="586.8" stroke="#000" stroke-width="2.4"/>
<line x1="591.0" y1="579.1" x2="591.0" y2="586.8" stroke="#000" stroke-width="2.4"/>
<line x1="633.6" y1="579.1" x2="633.6" y2="586.8" stroke="#000" stroke-width="2.4"/>
<line x1="676.2" y1="579.1" x2="676.2" y2="586.8" stroke="#000" stroke-width="2.4"/>
<line x1="718.9" y1="579.1" x2="718.9" y2="586.8" stroke="#000" stroke-width="2.4"/>
<rect x="65.0" y="457.6" width="13.4" height="121.5" fill="#000"/>
<path d="M71.8,458.6V435.5" fill="none" stroke="#000" stroke-width="3.0"/><path d="M68.8,435.5h5.8" fill="none" stroke="#000" stroke-width="3.0" stroke-linecap="round"/>
<path d="M87.8,528.5V524.4" fill="none" stroke="#000" stroke-width="3.0"/><path d="M84.9,524.4h5.8" fill="none" stroke="#000" stroke-width="3.0" stroke-linecap="round"/>
<rect x="82.6" y="528.9" width="10.5" height="50.2" fill="#fff" stroke="#000" stroke-width="2.8"/>
<text transform="translate(84.8,601.0) rotate(-45)" text-anchor="end" font-weight="bold" font-style="italic" font-size="18" fill="#000">Acvrl1</text>
<rect x="107.7" y="470.9" width="13.4" height="108.2" fill="#000"/>
<path d="M114.4,471.9V462.4" fill="none" stroke="#000" stroke-width="3.0"/><path d="M111.5,462.4h5.8" fill="none" stroke="#000" stroke-width="3.0" stroke-linecap="round"/>
<path d="M130.4,505.1V496.5" fill="none" stroke="#000" stroke-width="3.0"/><path d="M127.5,496.5h5.8" fill="none" stroke="#000" stroke-width="3.0" stroke-linecap="round"/>
<rect x="125.2" y="505.5" width="10.5" height="73.6" fill="#fff" stroke="#000" stroke-width="2.8"/>
<text transform="translate(127.4,601.0) rotate(-45)" text-anchor="end" font-weight="bold" font-style="italic" font-size="18" fill="#000">Bdnf</text>
<rect x="150.3" y="458.4" width="13.4" height="120.7" fill="#000"/>
<path d="M157.0,459.4V437.5" fill="none" stroke="#000" stroke-width="3.0"/><path d="M154.1,437.5h5.8" fill="none" stroke="#000" stroke-width="3.0" stroke-linecap="round"/>
<path d="M173.0,477.8V464.3" fill="none" stroke="#000" stroke-width="3.0"/><path d="M170.1,464.3h5.8" fill="none" stroke="#000" stroke-width="3.0" stroke-linecap="round"/>
<rect x="167.8" y="478.2" width="10.5" height="100.9" fill="#fff" stroke="#000" stroke-width="2.8"/>
<text transform="translate(170.0,601.0) rotate(-45)" text-anchor="end" font-weight="bold" font-style="italic" font-size="18" fill="#000">Egr2</text>
<rect x="192.9" y="460.4" width="13.4" height="118.7" fill="#000"/>
<path d="M199.6,461.4V443.7" fill="none" stroke="#000" stroke-width="3.0"/><path d="M196.7,443.7h5.8" fill="none" stroke="#000" stroke-width="3.0" stroke-linecap="round"/>
<path d="M215.6,507.7V497.5" fill="none" stroke="#000" stroke-width="3.0"/><path d="M212.7,497.5h5.8" fill="none" stroke="#000" stroke-width="3.0" stroke-linecap="round"/>
<rect x="210.4" y="508.1" width="10.5" height="71.0" fill="#fff" stroke="#000" stroke-width="2.8"/>
<text transform="translate(212.6,601.0) rotate(-45)" text-anchor="end" font-weight="bold" font-style="italic" font-size="18" fill="#000">Egr3</text>
<rect x="235.5" y="461.6" width="13.4" height="117.5" fill="#000"/>
<path d="M242.2,462.6V445.7" fill="none" stroke="#000" stroke-width="3.0"/><path d="M239.3,445.7h5.8" fill="none" stroke="#000" stroke-width="3.0" stroke-linecap="round"/>
<path d="M258.2,496.2V487.4" fill="none" stroke="#000" stroke-width="3.0"/><path d="M255.3,487.4h5.8" fill="none" stroke="#000" stroke-width="3.0" stroke-linecap="round"/>
<rect x="253.0" y="496.6" width="10.5" height="82.5" fill="#fff" stroke="#000" stroke-width="2.8"/>
<text transform="translate(255.2,601.0) rotate(-45)" text-anchor="end" font-weight="bold" font-style="italic" font-size="18" fill="#000">Grik3</text>
<rect x="278.1" y="452.0" width="13.4" height="127.1" fill="#000"/>
<path d="M284.8,453.0V428.1" fill="none" stroke="#000" stroke-width="3.0"/><path d="M281.9,428.1h5.8" fill="none" stroke="#000" stroke-width="3.0" stroke-linecap="round"/>
<path d="M300.8,522.7V514.4" fill="none" stroke="#000" stroke-width="3.0"/><path d="M297.9,514.4h5.8" fill="none" stroke="#000" stroke-width="3.0" stroke-linecap="round"/>
<rect x="295.6" y="523.1" width="10.5" height="56.0" fill="#fff" stroke="#000" stroke-width="2.8"/>
<text transform="translate(297.8,601.0) rotate(-45)" text-anchor="end" font-weight="bold" font-style="italic" font-size="18" fill="#000">Grin2c</text>
<rect x="320.7" y="418.0" width="13.4" height="161.1" fill="#000"/>
<path d="M327.4,419.0V365.1" fill="none" stroke="#000" stroke-width="3.0"/><path d="M324.5,365.1h5.8" fill="none" stroke="#000" stroke-width="3.0" stroke-linecap="round"/>
<path d="M343.4,524.2V513.1" fill="none" stroke="#000" stroke-width="3.0"/><path d="M340.5,513.1h5.8" fill="none" stroke="#000" stroke-width="3.0" stroke-linecap="round"/>
<rect x="338.2" y="524.6" width="10.5" height="54.5" fill="#fff" stroke="#000" stroke-width="2.8"/>
<text transform="translate(340.4,601.0) rotate(-45)" text-anchor="end" font-weight="bold" font-style="italic" font-size="18" fill="#000">Igf1</text>
<rect x="405.9" y="462.4" width="13.4" height="116.7" fill="#000"/>
<path d="M412.6,463.4V442.3" fill="none" stroke="#000" stroke-width="3.0"/><path d="M409.7,442.3h5.8" fill="none" stroke="#000" stroke-width="3.0" stroke-linecap="round"/>
<path d="M428.7,475.6V456.2" fill="none" stroke="#000" stroke-width="3.0"/><path d="M425.8,456.2h5.8" fill="none" stroke="#000" stroke-width="3.0" stroke-linecap="round"/>
<rect x="423.4" y="476.0" width="10.5" height="103.1" fill="#fff" stroke="#000" stroke-width="2.8"/>
<text transform="translate(425.6,601.0) rotate(-45)" text-anchor="end" font-weight="bold" font-style="italic" font-size="18" fill="#000">Cldn2</text>
<rect x="448.5" y="427.3" width="13.4" height="151.8" fill="#000"/>
<path d="M455.2,428.3V366.2" fill="none" stroke="#000" stroke-width="3.0"/><path d="M452.3,366.2h5.8" fill="none" stroke="#000" stroke-width="3.0" stroke-linecap="round"/>
<path d="M471.3,405.3V344.7" fill="none" stroke="#000" stroke-width="3.0"/><path d="M468.4,344.7h5.8" fill="none" stroke="#000" stroke-width="3.0" stroke-linecap="round"/>
<rect x="466.0" y="405.7" width="10.5" height="173.4" fill="#fff" stroke="#000" stroke-width="2.8"/>
<text transform="translate(468.2,601.0) rotate(-45)" text-anchor="end" font-weight="bold" font-style="italic" font-size="18" fill="#000">Klf4</text>
<rect x="491.1" y="420.8" width="13.4" height="158.3" fill="#000"/>
<path d="M497.8,421.8V368.5" fill="none" stroke="#000" stroke-width="3.0"/><path d="M494.9,368.5h5.8" fill="none" stroke="#000" stroke-width="3.0" stroke-linecap="round"/>
<path d="M513.9,559.2V551.2" fill="none" stroke="#000" stroke-width="3.0"/><path d="M511.0,551.2h5.8" fill="none" stroke="#000" stroke-width="3.0" stroke-linecap="round"/>
<rect x="508.6" y="559.6" width="10.5" height="19.5" fill="#fff" stroke="#000" stroke-width="2.8"/>
<text transform="translate(510.8,601.0) rotate(-45)" text-anchor="end" font-weight="bold" font-style="italic" font-size="18" fill="#000">Slc27a2</text>
<rect x="576.3" y="467.7" width="13.4" height="111.4" fill="#000"/>
<path d="M583.0,468.7V459.0" fill="none" stroke="#000" stroke-width="3.0"/><path d="M580.1,459.0h5.8" fill="none" stroke="#000" stroke-width="3.0" stroke-linecap="round"/>
<path d="M599.1,473.8V463.2" fill="none" stroke="#000" stroke-width="3.0"/><path d="M596.2,463.2h5.8" fill="none" stroke="#000" stroke-width="3.0" stroke-linecap="round"/>
<rect x="593.8" y="474.2" width="10.5" height="104.9" fill="#fff" stroke="#000" stroke-width="2.8"/>
<text transform="translate(596.0,601.0) rotate(-45)" text-anchor="end" font-weight="bold" font-style="italic" font-size="18" fill="#000">Grin2a</text>
<rect x="618.9" y="462.7" width="13.4" height="116.4" fill="#000"/>
<path d="M625.6,463.7V444.9" fill="none" stroke="#000" stroke-width="3.0"/><path d="M622.7,444.9h5.8" fill="none" stroke="#000" stroke-width="3.0" stroke-linecap="round"/>
<path d="M641.7,439.2V413.3" fill="none" stroke="#000" stroke-width="3.0"/><path d="M638.8,413.3h5.8" fill="none" stroke="#000" stroke-width="3.0" stroke-linecap="round"/>
<rect x="636.4" y="439.6" width="10.5" height="139.5" fill="#fff" stroke="#000" stroke-width="2.8"/>
<text transform="translate(638.6,601.0) rotate(-45)" text-anchor="end" font-weight="bold" font-style="italic" font-size="18" fill="#000">Grin2b</text>
<rect x="704.2" y="459.0" width="13.4" height="120.1" fill="#000"/>
<path d="M710.9,460.0V437.2" fill="none" stroke="#000" stroke-width="3.0"/><path d="M708.0,437.2h5.8" fill="none" stroke="#000" stroke-width="3.0" stroke-linecap="round"/>
<path d="M726.9,504.0V494.6" fill="none" stroke="#000" stroke-width="3.0"/><path d="M724.0,494.6h5.8" fill="none" stroke="#000" stroke-width="3.0" stroke-linecap="round"/>
<rect x="721.7" y="504.4" width="10.5" height="74.7" fill="#fff" stroke="#000" stroke-width="2.8"/>
<text transform="translate(723.9,601.0) rotate(-45)" text-anchor="end" font-weight="bold" font-style="italic" font-size="18" fill="#000">Med12</text>
<g font-size="18" fill="#000" stroke="#000" stroke-width="0.1">
<text x="79.8" y="377.0" textLength="8.4" lengthAdjust="spacingAndGlyphs">*</text>
<text x="119.0" y="377.0" textLength="8.4" lengthAdjust="spacingAndGlyphs">*</text>
<text x="204.1" y="377.0" textLength="8.4" lengthAdjust="spacingAndGlyphs">*</text>
<text x="286.3" y="377.0" textLength="16.8" lengthAdjust="spacingAndGlyphs">**</text>
<text x="336.1" y="377.0" textLength="8.4" lengthAdjust="spacingAndGlyphs">*</text>
<text x="506.7" y="377.0" textLength="8.4" lengthAdjust="spacingAndGlyphs">*</text>
</g>
<rect x="691.2" y="325.8" width="24.8" height="17.2" rx="1.2" fill="#000" stroke="#000" stroke-width="3.2" stroke-linejoin="round"/>
<rect x="691.2" y="353.6" width="24.8" height="16.8" rx="1.2" fill="#fff" stroke="#000" stroke-width="3.2" stroke-linejoin="round"/>
<g font-size="19.2" fill="#0a0a0a">
<text x="730.4" y="341.7" textLength="29.6" lengthAdjust="spacingAndGlyphs">WT</text>
<text x="729.4" y="369.1" textLength="32.0" lengthAdjust="spacingAndGlyphs">Mut</text>
</g>
<g font-size="19.6" fill="#0d0d0d" text-anchor="middle">
<line x1="68.8" y1="655.9" x2="353.5" y2="655.9" stroke="#000" stroke-width="3.1" stroke-linecap="round"/>
<text x="189.8" y="676.3" textLength="76.2" lengthAdjust="spacingAndGlyphs">Cluster 2</text>
<text x="189.8" y="701.8" textLength="75.4" lengthAdjust="spacingAndGlyphs">Neuronal</text>
<line x1="407.3" y1="653.9" x2="523.9" y2="653.9" stroke="#000" stroke-width="3.1" stroke-linecap="round"/>
<text x="466.8" y="676.3" textLength="77.2" lengthAdjust="spacingAndGlyphs">Cluster 2</text>
<text x="466.8" y="701.8" textLength="116.2" lengthAdjust="spacingAndGlyphs">Non-neuronal</text>
<line x1="571.3" y1="654.9" x2="648.5" y2="654.9" stroke="#000" stroke-width="3.1" stroke-linecap="round"/>
<text x="606.7" y="676.3" textLength="75.4" lengthAdjust="spacingAndGlyphs">Cluster 3</text>
<text x="606.7" y="701.8" textLength="75.4" lengthAdjust="spacingAndGlyphs">Neuronal</text>
<line x1="698.5" y1="654.2" x2="744.5" y2="654.2" stroke="#000" stroke-width="3.1" stroke-linecap="round"/>
<text x="727.3" y="676.3" textLength="76.4" lengthAdjust="spacingAndGlyphs">Cluster 3</text>
<text x="727.3" y="701.8" textLength="112.9" lengthAdjust="spacingAndGlyphs">Non-neuronal</text>
</g>
</svg>
</body></html>
